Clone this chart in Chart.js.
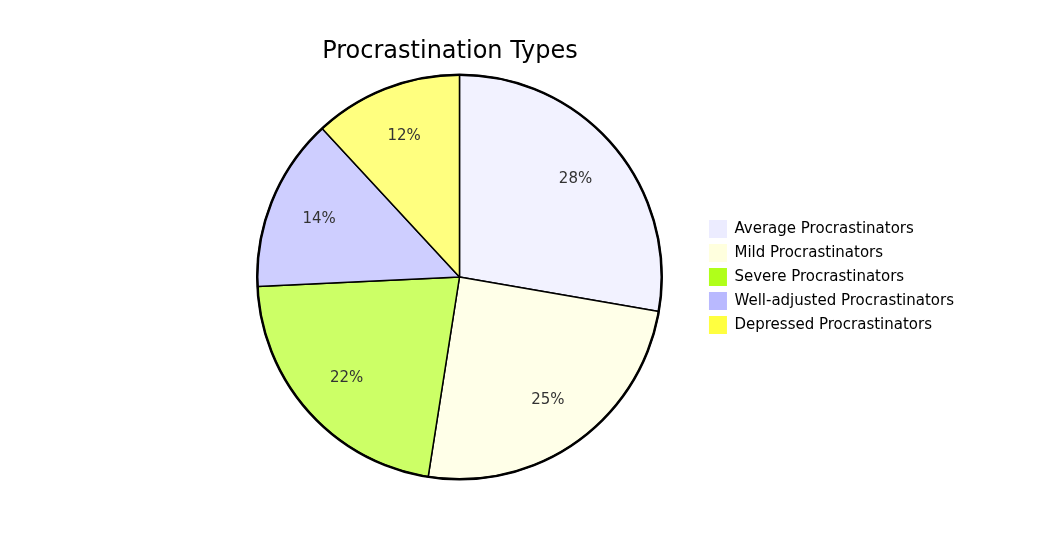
<!DOCTYPE html>
<html>
<head>
<meta charset="utf-8">
<script src="https://cdn.jsdelivr.net/npm/chart.js@4.4.1/dist/chart.umd.min.js"></script>
<style>
  body { margin: 0; background: #fff; }
  #wrap { position: relative; width: 1059px; height: 550px; }
  #title { position: absolute; left: 250px; width: 400px; top: 36px; text-align: center;
           font: 24px "DejaVu Sans", sans-serif; color: #000; }
</style>
</head>
<body>
<div id="wrap">
  <canvas id="pie" width="1059" height="550"></canvas>
  <div id="title">Procrastination Types</div>
</div>
<script>
const labels = ["Average Procrastinators", "Mild Procrastinators", "Severe Procrastinators", "Well-adjusted Procrastinators", "Depressed Procrastinators"];
const values = [28, 25, 22, 14, 12];
const legendColors = ["#ececff", "#ffffde", "#b0ff1a", "#b9b9ff", "#ffff40"];
const sliceColors = ["#f2f2ff", "#ffffe8", "#ccff66", "#ceceff", "#ffff7f"];

const pctLabels = {
  id: "pctLabels",
  afterDatasetsDraw(chart) {
    const ctx = chart.ctx;
    const total = values.reduce((a, b) => a + b, 0);
    ctx.save();
    ctx.font = '15px "DejaVu Sans", sans-serif';
    ctx.fillStyle = "#333";
    ctx.textAlign = "center";
    ctx.textBaseline = "middle";
    chart.getDatasetMeta(0).data.forEach((arc, i) => {
      const p = arc.getProps(["x", "y", "startAngle", "endAngle", "outerRadius"], true);
      const a = (p.startAngle + p.endAngle) / 2;
      const r = p.outerRadius * 0.75;
      ctx.fillText(Math.round(values[i] / total * 100) + "%", p.x + Math.cos(a) * r, p.y + Math.sin(a) * r);
    });
    // outer ring
    const a0 = chart.getDatasetMeta(0).data[0];
    ctx.beginPath();
    ctx.arc(a0.x, a0.y, a0.outerRadius, 0, Math.PI * 2);
    ctx.lineWidth = 2.5;
    ctx.strokeStyle = "#000";
    ctx.stroke();
    ctx.restore();
  }
};

new Chart(document.getElementById("pie"), {
  type: "pie",
  data: {
    labels,
    datasets: [{
      data: values,
      backgroundColor: sliceColors,
      borderColor: "#000",
      borderWidth: 1.5
    }]
  },
  options: {
    responsive: false,
    animation: false,
    layout: { padding: { left: 216, right: 95, top: 74, bottom: 70 } },
    plugins: {
      title: { display: false },
      tooltip: { enabled: false },
      legend: {
        position: "right",
        labels: {
          boxWidth: 18,
          boxHeight: 18,
          padding: 6,
          color: "#000",
          font: { family: "DejaVu Sans", size: 15 },
          generateLabels: () => labels.map((t, i) => ({
            text: t, fillStyle: legendColors[i], strokeStyle: legendColors[i], lineWidth: 0, index: i
          }))
        }
      }
    }
  },
  plugins: [pctLabels]
});
</script>
</body>
</html>
